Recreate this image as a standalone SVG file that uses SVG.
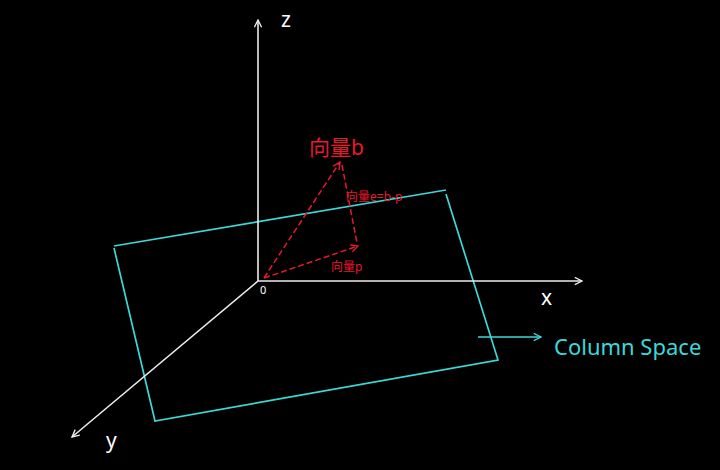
<svg xmlns="http://www.w3.org/2000/svg" width="720" height="470" viewBox="0 0 720 470">
<style>
.ax{stroke:#ececec;stroke-width:1.6;fill:none}
.pl{stroke:#3cd8d8;stroke-width:1.7;fill:none}
.vec{stroke:#e8192c;stroke-width:1.5;stroke-dasharray:6 3;fill:none}
.wt{fill:#ffffff;font-family:"Noto Sans","Open Sans",sans-serif}
.rt{fill:#e8192c;font-family:"Noto Sans","Noto Sans CJK SC",sans-serif}
</style>
<defs>
<marker id="aw" viewBox="0 0 10 10" refX="9" refY="5" markerWidth="9" markerHeight="9" markerUnits="userSpaceOnUse" orient="auto"><path d="M1,1 L9,5 L1,9" fill="none" stroke="#ececec" stroke-width="1.5"/></marker>
<marker id="ac" viewBox="0 0 10 10" refX="9" refY="5" markerWidth="9" markerHeight="9" markerUnits="userSpaceOnUse" orient="auto"><path d="M1,1 L9,5 L1,9" fill="none" stroke="#3cd8d8" stroke-width="1.5"/></marker>
<marker id="ar" viewBox="0 0 10 10" refX="9" refY="5" markerWidth="9" markerHeight="9" markerUnits="userSpaceOnUse" orient="auto"><path d="M1,1 L9,5 L1,9" fill="none" stroke="#e8192c" stroke-width="1.5"/></marker>
</defs>
<rect width="720" height="470" fill="#000"/>
<g id="plane">
<polyline class="pl" points="114,246 446,190"/>
<polyline class="pl" points="446,194 498,360 155,421 114,248"/>
</g>
<g id="connectors">
<line class="ax" x1="258" y1="281" x2="258" y2="20" marker-end="url(#aw)"/>
<line class="ax" x1="258" y1="281" x2="582" y2="281" marker-end="url(#aw)"/>
<line class="ax" x1="258" y1="281" x2="72" y2="437" marker-end="url(#aw)"/>
<line class="pl" x1="478" y1="337" x2="541" y2="337" marker-end="url(#ac)"/>
<line class="vec" x1="264" y1="278" x2="340" y2="162" marker-end="url(#ar)"/>
<line class="vec" x1="264" y1="278" x2="358" y2="246" marker-end="url(#ar)"/>
<line class="vec" x1="342" y1="165" x2="357" y2="243"/>
</g>
<g id="labels">
<text class="wt" x="281" y="27" font-size="21">z</text>
<text class="wt" x="541" y="305" font-size="21">x</text>
<text class="wt" x="106" y="448" font-size="21">y</text>
<text class="wt" x="260" y="294" font-size="11">0</text>
<text x="554" y="355" font-size="22" fill="#3cd8d8" font-family="Noto Sans, Open Sans, sans-serif">Column Space</text>
<text class="rt" x="309" y="155" font-size="21">向量b</text>
<text class="rt" x="346" y="201" font-size="12">向量e=b-p</text>
<text class="rt" x="331" y="271" font-size="12">向量p</text>
</g>
</svg>
